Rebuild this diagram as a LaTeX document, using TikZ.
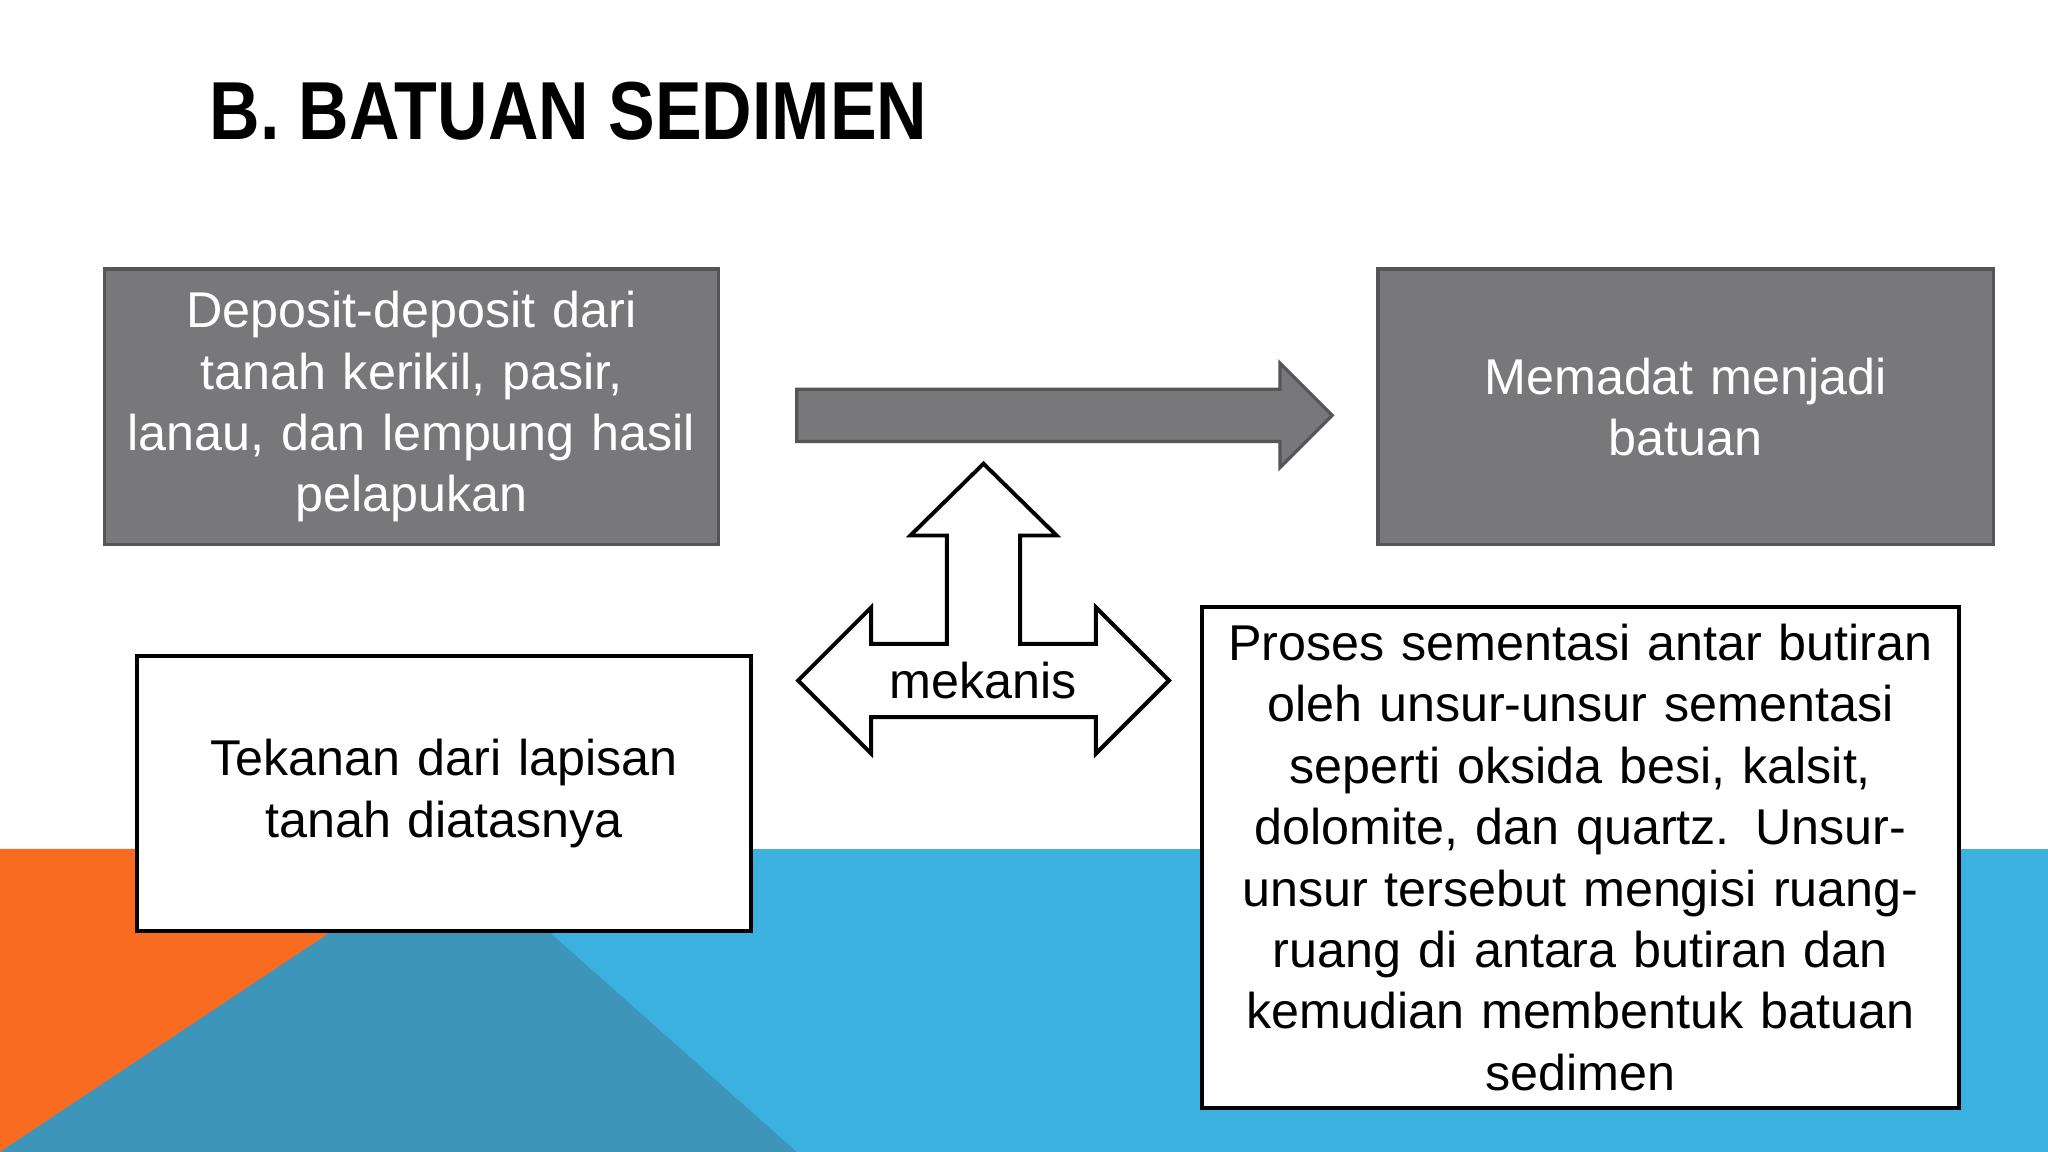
\documentclass[tikz,border=0pt]{standalone}
\usepackage{fontspec}
\setmainfont{Liberation Sans}
\newfontfamily\titlefont[FakeStretch=0.85]{Liberation Sans}
\definecolor{gbox}{HTML}{78787A}
\definecolor{gline}{HTML}{555558}
\definecolor{lblue}{HTML}{3AB1DF}
\definecolor{dblue}{HTML}{3D95BA}
\definecolor{orng}{HTML}{F96B21}
\tikzset{
 graybox/.style={draw=gline,line width=2.5pt,fill=gbox,text=white,align=center,inner sep=0pt},
 whitebox/.style={draw=black,line width=3pt,fill=white,text=black,align=center,inner sep=0pt},
 body/.style={font=\fontsize{38.5}{47}\selectfont}
}
\begin{document}
\begin{tikzpicture}[x=1pt,y=-1pt]
\useasboundingbox (0,0) rectangle (1568,882);
\fill[white] (0,0) rectangle (1568,882);
\fill[lblue] (0,650) rectangle (1568,882);
\fill[orng] (0,650) -- (349,650) -- (0,882) -- cycle;
\fill[dblue] (0,882) -- (349,650) -- (610,882) -- cycle;
\node[anchor=base west,font=\titlefont\fontsize{63}{70}\selectfont\bfseries] (title) at (157,107) {B. BATUAN SEDIMEN};
\node[graybox,body,minimum width=470pt,minimum height=211pt,text width=460pt] (dep) at (315,311.5) {Deposit-deposit dari\\tanah kerikil, pasir,\\lanau, dan lempung hasil\\pelapukan};
\node[graybox,body,minimum width=471pt,minimum height=211pt,text width=460pt] (mem) at (1290.5,311.5) {Memadat menjadi\\batuan};
\node[whitebox,body,minimum width=470pt,minimum height=211pt,text width=460pt] (tek) at (340,607.5) {Tekanan dari lapisan\\tanah diatasnya};
\node[whitebox,body,minimum width=580pt,minimum height=383pt,text width=575pt] (pro) at (1210,656.5) {Proses sementasi antar butiran\\oleh unsur-unsur sementasi\\seperti oksida besi, kalsit,\\dolomite, dan quartz. Unsur-\\unsur tersebut mengisi ruang-\\ruang di antara butiran dan\\kemudian membentuk batuan\\sedimen};
\draw[draw=gline,line width=2.5pt,fill=gbox,line join=miter] (610,298) -- (980,298) -- (980,278) -- (1020,318) -- (980,358) -- (980,338) -- (610,338) -- cycle;
\draw[black,line width=3pt,fill=white,line join=miter] (611,521) -- (667,465) -- (667,493) -- (725,493) -- (725,410) -- (697,410) -- (753,355) -- (809,410) -- (781,410) -- (781,493) -- (839,493) -- (839,465) -- (895,521) -- (839,577) -- (839,549) -- (667,549) -- (667,577) -- cycle;
\node[body] (mek) at (753,521) {mekanis};
\end{tikzpicture}
\end{document}
